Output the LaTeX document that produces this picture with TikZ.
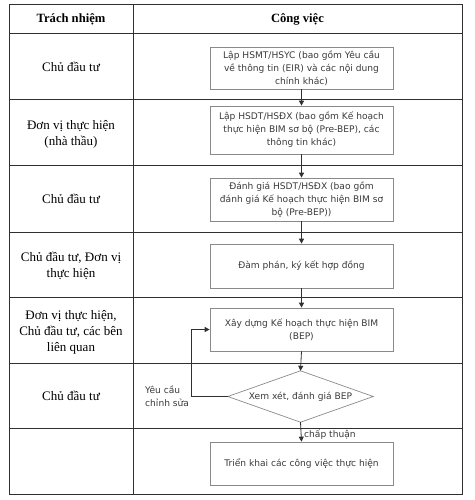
\documentclass[tikz,border=0pt]{standalone}
\usepackage{fontspec}
\setmainfont{Liberation Serif}
\newfontfamily\boxfont{DejaVu Sans}
\usetikzlibrary{arrows.meta}
\definecolor{linec}{HTML}{303030}
\definecolor{boxc}{HTML}{8A8A8A}
\definecolor{txtc}{HTML}{3A3A3A}
\begin{document}
\begin{tikzpicture}[x=1pt,y=-1pt,
  grid/.style={draw=linec,line width=1pt},
  bfont/.style={font=\boxfont\fontsize{9.1}{13}\selectfont},
  stepbox/.style={draw=boxc,line width=0.7pt,minimum width=183pt,align=center,inner sep=2pt,text=txtc,bfont},
  resp/.style={align=center,font=\fontsize{13}{16}\selectfont,text=black},
  head/.style={font=\bfseries\fontsize{12.6}{16}\selectfont},
  arr/.style={draw=linec,line width=0.8pt,-{Triangle[length=5pt,width=5pt]}},
  lbl/.style={text=txtc,bfont,inner sep=0pt}]
\useasboundingbox (0,0) rectangle (474,500);
% table
\draw[grid] (9,5) rectangle (462,494);
\draw[grid] (133,5) -- (133,494);
\foreach \y in {34,100,165,232,297,363,428} \draw[grid] (9,\y) -- (462,\y);
% header
\node[head] (h1) at (71,19.5) {Trách nhiệm};
\node[head] (h2) at (297.5,19.5) {Công việc};
% responsibilities
\node[resp] (r1) at (71,67) {Chủ đầu tư};
\node[resp] (r2) at (71,134) {Đơn vị thực hiện\\(nhà thầu)};
\node[resp] (r3) at (71,199) {Chủ đầu tư};
\node[resp] (r4) at (71,266) {Chủ đầu tư, Đơn vị\\thực hiện};
\node[resp] (r5) at (71,332) {Đơn vị thực hiện,\\Chủ đầu tư, các bên\\liên quan};
\node[resp] (r6) at (71,396) {Chủ đầu tư};
% steps
\node[stepbox,minimum height=42pt] (b1) at (301.5,68) {Lập HSMT/HSYC (bao gồm Yêu cầu\\về thông tin (EIR) và các nội dung\\chính khác)};
\node[stepbox,minimum height=48pt] (b2) at (301.5,130) {Lập HSDT/HSĐX (bao gồm Kế hoạch\\thực hiện BIM sơ bộ (Pre-BEP), các\\thông tin khác)};
\node[stepbox,minimum height=43pt] (b3) at (301.5,199.5) {Đánh giá HSDT/HSĐX (bao gồm\\đánh giá Kế hoạch thực hiện BIM sơ\\bộ (Pre-BEP))};
\node[stepbox,minimum height=44pt] (b4) at (301.5,266) {Đàm phán, ký kết hợp đồng};
\node[stepbox,minimum height=43pt] (b5) at (301.5,329.5) {Xây dựng Kế hoạch thực hiện BIM\\(BEP)};
\node[minimum width=145pt,minimum height=51pt,inner sep=0pt,text=txtc,bfont] (d) at (300.5,396.5) {Xem xét, đánh giá BEP};
\draw[draw=boxc,line width=0.7pt] (d.north) -- (d.east) -- (d.south) -- (d.west) -- cycle;
\node[stepbox,minimum height=43pt] (b7) at (301.5,463.5) {Triển khai các công việc thực hiện};
% connectors
\draw[arr] (b1.south) -- (b2.north);
\draw[arr] (b2.south) -- (b3.north);
\draw[arr] (b3.south) -- (b4.north);
\draw[arr] (b4.south) -- (b5.north);
\draw[arr] (b5.south) -- (d.north);
\draw[arr] (d.south) -- (b7.north);
\coordinate (lp) at (191,396.5);
\draw[arr] (d.west) -- (lp) |- (b5.west);
\node[lbl,anchor=west,align=left] (l1) at (145,396) {Yêu cầu\\chỉnh sửa};
\node[lbl,anchor=west] (l2) at (304,435) {chấp thuận};
\end{tikzpicture}
\end{document}
